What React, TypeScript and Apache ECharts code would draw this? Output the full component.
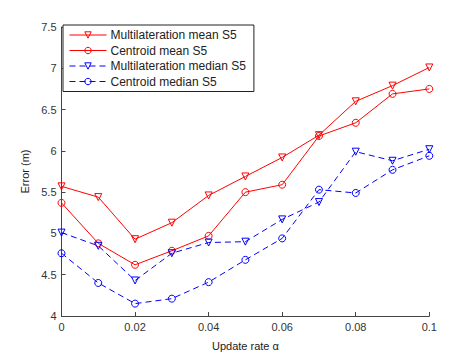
import React, { useEffect, useRef } from "react";
import * as echarts from "echarts";

const alphas = [0, 0.01, 0.02, 0.03, 0.04, 0.05, 0.06, 0.07, 0.08, 0.09, 0.1];
const multiMean = [5.57, 5.44, 4.93, 5.13, 5.46, 5.69, 5.92, 6.19, 6.6, 6.79, 7.01];
const centMean = [5.37, 4.88, 4.62, 4.79, 4.97, 5.5, 5.59, 6.18, 6.34, 6.69, 6.75];
const multiMedian = [5.01, 4.85, 4.43, 4.76, 4.89, 4.9, 5.17, 5.38, 5.99, 5.88, 6.02];
const centMedian = [4.76, 4.4, 4.15, 4.21, 4.41, 4.68, 4.94, 5.53, 5.49, 5.77, 5.94];
const seriesNames = [
  "Multilateration mean S5",
  "Centroid mean S5",
  "Multilateration median S5",
  "Centroid median S5",
];

const FONT = "Liberation Sans, Arial, sans-serif";

export default function App() {
  const ref = useRef<HTMLDivElement>(null);
  useEffect(() => {
    if (!ref.current) return;
    const chart = echarts.init(ref.current, null, { renderer: "svg" });
    const mk = (
      name: string,
      vals: number[],
      color: string,
      dashed: boolean,
      tri: boolean
    ) => ({
      name,
      type: "line",
      data: alphas.map((a, i) => [a, vals[i]]),
      symbol: tri ? "triangle" : "circle",
      symbolRotate: tri ? 180 : 0,
      symbolSize: 7,
      showAllSymbol: true,
      lineStyle: { color, width: 1, type: dashed ? [6, 4] : "solid" },
      itemStyle: { color: "rgba(255,255,255,0)", borderColor: color, borderWidth: 1 },
      emphasis: { disabled: true },
    });
    chart.setOption({
      animation: false,
      textStyle: { fontFamily: FONT },
      grid: { left: 61.5, right: 44.7, top: 27, bottom: 39.3 },
      legend: {
        left: 63,
        top: 25,
        orient: "vertical",
        backgroundColor: "#fff",
        borderColor: "#222",
        borderWidth: 1,
        borderRadius: 0,
        padding: [4, 8, 4, 6],
        itemWidth: 37,
        itemHeight: 8,
        itemGap: 3.5,
        itemStyle: { borderWidth: 1 },
        lineStyle: { width: 1 },
        textStyle: { fontFamily: FONT, fontSize: 12, color: "#222", padding: [0, 0, 0, -1] },
        data: seriesNames,
      },
      xAxis: {
        type: "value",
        min: 0,
        max: 0.1,
        interval: 0.02,
        name: "Update rate α",
        nameLocation: "middle",
        nameGap: 24,
        nameTextStyle: { fontFamily: FONT, fontSize: 11, color: "#222" },
        axisLine: { show: true, lineStyle: { color: "#444", width: 1 } },
        axisTick: { show: true, inside: true, length: 4, lineStyle: { color: "#444" } },
        axisLabel: { fontFamily: FONT, fontSize: 11, color: "#333", margin: 5 },
        splitLine: { show: false },
      },
      yAxis: {
        type: "value",
        min: 4,
        max: 7.5,
        interval: 0.5,
        name: "Error (m)",
        nameLocation: "middle",
        nameGap: 27,
        nameTextStyle: { fontFamily: FONT, fontSize: 11, color: "#222" },
        axisLine: { show: true, lineStyle: { color: "#444", width: 1 } },
        axisTick: { show: true, inside: true, length: 4, lineStyle: { color: "#444" } },
        axisLabel: { fontFamily: FONT, fontSize: 11, color: "#333", margin: 5 },
        splitLine: { show: false },
      },
      series: [
        mk(seriesNames[0], multiMean, "#ff0000", false, true),
        mk(seriesNames[1], centMean, "#ff0000", false, false),
        mk(seriesNames[2], multiMedian, "#0000ff", true, true),
        mk(seriesNames[3], centMedian, "#0000ff", true, false),
      ],
    });
    return () => chart.dispose();
  }, []);
  return (
    <div
      ref={ref}
      style={{ position: "absolute", left: 0, top: 0, width: 474, height: 356, background: "#fff" }}
    />
  );
}
